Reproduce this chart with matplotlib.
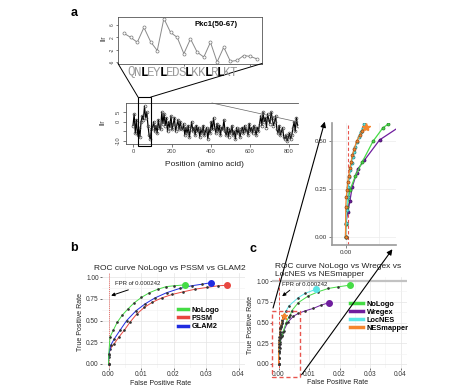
import numpy as np
import matplotlib
matplotlib.use("Agg")
import matplotlib.pyplot as plt
from matplotlib.patches import Rectangle, FancyArrowPatch
from matplotlib.lines import Line2D

plt.rcParams['font.family'] = ['Liberation Sans', 'DejaVu Sans']

W, H = 474, 387

# ---------------- panel a ----------------
pkc1_pos = np.arange(51, 72)
pkc1_llr = [3.3, 2.0, 0.4, 5.2, 0.6, -2.3, 8.1, 3.6, 2.0, -3.3, 1.5, -2.8,
            -4.4, 0.4, -6.0, -1.2, -5.8, -5.5, -3.9, -4.2, -5.0]
pkc1_seq = "QNLEYLEDSLKKLRLKT"

profile_llr = [-2, 4, -6, 1,
               -7, -3, -8, 0,
               3, 1, 8, 2, 5,
               -2, -7, -9, -4,
               -3, 0, -5, -2, -6, 1, -3, -4,
               5, -1, 4,
               -2, 2, -5, 0, -3, 3, -4, -1, 2, -5, -2, 1, -4, 0, -3,
               -4, -1, -7, -3, -6, -2, -8, -4, 0, -5, -3, -7, -2,
               -5, -3, -8, -4, -6, -2, -7, -5, -3, -9, -4, -6,
               0, -4, 2, -3, -6, -1, -5, -2, -7, -3, -4, 1,
               -5, -7, -3, -8, -4, -6, -2, -7, -5, -9, -3, -6, -4, -8, -5,
               -3, -6, -2, -5, -4, -7, -1, -5, -3, -6, -2, -4, -7, -3, -5,
               -1, 3, -2, 5, 0, 2, -3, 4, 1, -1, 5, 2, -2, 0, 3,
               -4, -6, -2, -7, -5, -3, -8,
               -9, -7, -10, -8, -6, -9, -7,
               -3, 0, -5, 2, -2]
profile_pos = np.arange(len(profile_llr)) * 5.9

# ---------------- panel b ----------------
b_nologo_fpr = [0, 0.0001, 0.00046, 0.0015, 0.0027, 0.0042, 0.0059, 0.0078, 0.0101, 0.0126, 0.0152, 0.0178, 0.0203, 0.0235]
b_nologo_tpr = [0, 0.12, 0.31, 0.39, 0.48, 0.56, 0.63, 0.70, 0.765, 0.82, 0.86, 0.89, 0.90, 0.91]
b_glam2_fpr = [0, 0.0001, 0.0007, 0.0018, 0.0035, 0.0056, 0.0084, 0.0112, 0.0143, 0.0179, 0.022, 0.0256, 0.0287, 0.0315]
b_glam2_tpr = [0, 0.10, 0.216, 0.29, 0.385, 0.50, 0.61, 0.69, 0.76, 0.82, 0.87, 0.90, 0.917, 0.935]
b_pssm_fpr = [0, 0.0001, 0.00046, 0.0018, 0.0032, 0.0049, 0.0066, 0.0087, 0.011, 0.0135, 0.0164, 0.0196, 0.023, 0.0266, 0.0302, 0.0338, 0.0364]
b_pssm_tpr = [0, 0.08, 0.17, 0.235, 0.31, 0.39, 0.48, 0.575, 0.65, 0.71, 0.76, 0.80, 0.83, 0.86, 0.88, 0.90, 0.905]

# ---------------- panel c ----------------
c_nologo_fpr = [0, 0.00002, 0.00016, 0.0004, 0.0009, 0.0015, 0.0025, 0.0034, 0.0039, 0.0043, 0.0065, 0.0098, 0.013, 0.0163, 0.0196, 0.0234]
c_nologo_tpr = [0, 0.07, 0.16, 0.246, 0.32, 0.39, 0.50, 0.57, 0.59, 0.64, 0.74, 0.82, 0.87, 0.91, 0.93, 0.95]
c_wregex_fpr = [0, 0.00002, 0.0002, 0.0004, 0.0006, 0.001, 0.0011, 0.0017, 0.0031, 0.0049, 0.0065, 0.0087, 0.0114, 0.014, 0.0167]
c_wregex_tpr = [0, 0.07, 0.13, 0.19, 0.26, 0.333, 0.354, 0.40, 0.507, 0.575, 0.61, 0.64, 0.67, 0.71, 0.74]
c_locnes_fpr = [0, 0.00002, 0.00011, 0.0002, 0.00025, 0.00035, 0.00044, 0.00056, 0.00065, 0.00077, 0.00089,
                0.00105, 0.0012, 0.00138, 0.00156, 0.00171, 0.0025, 0.0034, 0.0065, 0.0087, 0.0122]
c_locnes_tpr = [0, 0.073, 0.142, 0.21, 0.263, 0.316, 0.35, 0.385, 0.42, 0.446, 0.472,
                0.498, 0.524, 0.55, 0.567, 0.588, 0.64, 0.70, 0.80, 0.85, 0.90]
c_nesmap_fpr = [0, 0.00002, 0.00007, 0.00014, 0.0002, 0.00029, 0.00038, 0.0005, 0.00062, 0.0008, 0.001, 0.0013, 0.0015, 0.0019]
c_nesmap_tpr = [0, 0.16, 0.21, 0.246, 0.29, 0.32, 0.36, 0.39, 0.43, 0.46, 0.50, 0.53, 0.555, 0.573]

fpr_cut = 0.000242
roc_ticks = [0, 0.25, 0.5, 0.75, 1.0]
roc_xticks = [0, 0.01, 0.02, 0.03, 0.04]

GREEN, RED, BLUE = '#45dc45', '#e8463f', '#1f2be0'
PURPLE, CYAN, ORANGE = '#6f1d9e', '#5ae6e6', '#f5862e'

fig = plt.figure(figsize=(W / 100, H / 100), dpi=100)


def box(left, top, right, bottom):
    return [left / W, 1 - bottom / H, (right - left) / W, (bottom - top) / H]


def fp(x, y):
    return (x / W, 1 - y / H)


def fig_line(p1, p2, **kw):
    (x1, y1), (x2, y2) = fp(*p1), fp(*p2)
    fig.add_artist(Line2D([x1, x2], [y1, y2], transform=fig.transFigure, **kw))


def fig_arrow(p1, p2, **kw):
    fig.add_artist(FancyArrowPatch(fp(*p1), fp(*p2), transform=fig.transFigure,
                                   arrowstyle='-|>', **kw))


# ---- panel a: inset ----
ax_in = fig.add_axes(box(118, 17, 262, 63.5))
ax_in.plot(pkc1_pos, pkc1_llr, color='#8a8a8a', lw=0.7, marker='o', ms=2.2,
           mfc='white', mec='#777777', mew=0.5)
ax_in.set_xlim(50.1, 71.75)
ax_in.set_ylim(-6.49, 8.6)
ax_in.set_yticks([-6, -2, 2, 6])
ax_in.set_yticklabels(['-6', '-2', '2', '6'], rotation=90, va='center')
ax_in.set_xticks([60, 70])
ax_in.set_xticklabels([])
ax_in.tick_params(labelsize=3.5, length=1.5, width=0.5, pad=1, colors='#444444')
for s in ax_in.spines.values():
    s.set_linewidth(0.6)
    s.set_color('#555555')
fig.text(*fp(104, 38), 'llr', fontsize=5, rotation=90, ha='center', va='center', color='#333333')
fig.text(*fp(216.5, 25), 'Pkc1(50-67)', fontsize=5.6, fontweight='bold', ha='center', va='center')
for i, ch in enumerate(pkc1_seq):
    bold = ch == 'L'
    fig.text(*fp(131.2 + i * 6.4, 72.5), ch, family='Liberation Mono', fontsize=9,
             fontweight='bold' if bold else 'normal',
             color='black' if bold else '#9a9a9a', ha='center', va='center')

# ---- panel a: main profile ----
ax_a = fig.add_axes(box(126, 103, 298, 144))
ax_a.plot(profile_pos, profile_llr, color='black', lw=0.85, marker='o', ms=2.1,
          mfc='none', mec='#444444', mew=0.45)
ax_a.set_xlim(-35.9, 846)
ax_a.set_ylim(-11.55, 9.7)
ax_a.set_xticks([0, 200, 400, 600, 800])
ax_a.set_yticks([-10, -5, 0, 5])
ax_a.set_yticklabels(['-10', '', '0', '5'], rotation=90, va='center')
ax_a.tick_params(labelsize=4.2, length=2, width=0.5, pad=1.5, colors='#444444')
ax_a.spines['right'].set_visible(False)
for s in ['left', 'top', 'bottom']:
    ax_a.spines[s].set_linewidth(0.6)
    ax_a.spines[s].set_color('#555555')
fig.text(*fp(204, 164), 'Position (amino acid)', fontsize=6, ha='center', va='center', color='#222222')
fig.text(*fp(103, 122), 'llr', fontsize=5, rotation=90, ha='center', va='center', color='#333333')

x0, y0 = fp(138, 146)
x1, y1 = fp(151, 97)
fig.add_artist(Rectangle((x0, y0), x1 - x0, y1 - y0, transform=fig.transFigure,
                         fill=False, ec='black', lw=0.8))
fig_line((138, 97), (118, 63.5), color='black', lw=0.7)
fig_line((151, 97), (262, 63.5), color='black', lw=0.7)
fig_line((212, 103), (298, 122), color='#666666', lw=0.5)


def roc_style(ax, xlim, ylim):
    ax.set_xlim(*xlim)
    ax.set_ylim(*ylim)
    ax.set_xticks(roc_xticks)
    ax.set_xticklabels(['%.2f' % v for v in roc_xticks])
    ax.set_yticks(roc_ticks)
    ax.set_yticklabels(['%.2f' % v for v in roc_ticks])
    ax.set_xticks([0.005, 0.015, 0.025, 0.035], minor=True)
    ax.set_yticks([0.125, 0.375, 0.625, 0.875], minor=True)
    ax.grid(True, which='major', color='#e4e4e4', lw=0.5)
    ax.grid(True, which='minor', color='#f1f1f1', lw=0.4)
    ax.set_axisbelow(True)
    ax.tick_params(which='major', labelsize=4.7, length=1.5, width=0.5, pad=0.8,
                   color='#333333', labelcolor='#333333')
    ax.tick_params(which='minor', length=0)
    for s in ax.spines.values():
        s.set_visible(False)


def roc_curve(ax, x, y, color, end_marker='o', end_ms=4, **kw):
    ax.plot(x, y, color=color, lw=0.7, marker='o', ms=0.9, mfc='#333333', mec='#333333', **kw)
    ax.plot(x[-1:], y[-1:], color=color, marker=end_marker, ms=end_ms, ls='none', **kw)


# ---- panel b ----
ax_b = fig.add_axes(box(102, 272.7, 245, 368.3))
roc_style(ax_b, (-0.002, 0.042), (-0.05, 1.05))
ax_b.axvline(fpr_cut, color='#e8463f', ls=(0, (1, 1.3)), lw=0.6)
roc_curve(ax_b, b_pssm_fpr, b_pssm_tpr, RED)
roc_curve(ax_b, b_glam2_fpr, b_glam2_tpr, BLUE)
roc_curve(ax_b, b_nologo_fpr, b_nologo_tpr, GREEN)
hb = [Line2D([], [], color=c, lw=2.5) for c in (GREEN, RED, BLUE)]
ax_b.legend(hb, ['NoLogo', 'PSSM', 'GLAM2'], loc='upper left', bbox_to_anchor=fp(178, 306.5),
            bbox_transform=fig.transFigure, frameon=False, prop={'size': 5.3, 'weight': 'bold'},
            handlelength=1.4, handletextpad=0.45, labelspacing=0.15, borderpad=0, borderaxespad=0)
fig.text(*fp(170, 269), 'ROC curve NoLogo vs PSSM vs GLAM2', fontsize=6, ha='center', va='center', color='#222222')
fig.text(*fp(161, 383.5), 'False Positive Rate', fontsize=5, ha='center', va='center', color='#222222')
fig.text(*fp(80, 322), 'True Positive Rate', fontsize=5, rotation=90, ha='center', va='center', color='#222222')
fig.text(*fp(115, 283.5), 'FPR of 0.000242', fontsize=4.3, ha='left', va='center', color='#222222')
fig_arrow((131, 289), (108.5, 296.5), mutation_scale=5, lw=0.7, color='black')

# ---- panel c ----
ax_c = fig.add_axes(box(272.4, 276.85, 406.6, 368.15))
roc_style(ax_c, (-0.002, 0.042), (-0.05, 1.05))
ax_c.axhline(1.0, color='#c2c2c2', lw=1.6, zorder=1)
ax_c.axvline(fpr_cut, color='#e8554e', ls=(0, (3, 2)), lw=0.7)
roc_curve(ax_c, c_wregex_fpr, c_wregex_tpr, PURPLE)
roc_curve(ax_c, c_nologo_fpr, c_nologo_tpr, GREEN)
roc_curve(ax_c, c_locnes_fpr, c_locnes_tpr, CYAN)
roc_curve(ax_c, c_nesmap_fpr, c_nesmap_tpr, ORANGE, end_marker='*', end_ms=5)
hc = [Line2D([], [], color=c, lw=2.5) for c in (GREEN, PURPLE, CYAN, ORANGE)]
ax_c.legend(hc, ['NoLogo', 'Wregex', 'LocNES', 'NESmapper'], loc='upper left', bbox_to_anchor=fp(350, 300.7),
            bbox_transform=fig.transFigure, frameon=False, prop={'size': 5.3, 'weight': 'bold'},
            handlelength=1.75, handletextpad=0.5, labelspacing=0.1, borderpad=0, borderaxespad=0)
fig.text(*fp(275, 270), 'ROC curve NoLogo vs Wregex vs\nLocNES vs NESmapper', fontsize=6,
         ha='left', va='center', linespacing=1.2, color='#222222')
fig.text(*fp(337.5, 382.5), 'False Positive Rate', fontsize=5, ha='center', va='center', color='#222222')
fig.text(*fp(250, 325), 'True Positive Rate', fontsize=5, rotation=90, ha='center', va='center', color='#222222')
fig.text(*fp(282, 285), 'FPR of 0.000242', fontsize=4.3, ha='left', va='center', color='#222222')
fig_arrow((292, 288.5), (280, 298), mutation_scale=5, lw=0.7, color='black')

x0, y0 = fp(272.3, 377)
x1, y1 = fp(300, 310.7)
fig.add_artist(Rectangle((x0, y0), x1 - x0, y1 - y0, transform=fig.transFigure,
                         fill=False, ec='#e8554e', lw=1.0, ls=(0, (3, 2))))
fig_arrow((272.3, 310.7), (325.5, 119), mutation_scale=8, lw=0.8, color='black')
fig_arrow((300, 377), (394, 247), mutation_scale=8, lw=0.8, color='black')

# ---- panel c: zoomed inset ----
ax_z = fig.add_axes(box(332, 123, 396, 245))
ax_z.set_xlim(-0.00123, 0.00459)
ax_z.set_ylim(-0.04, 0.595)
ax_z.set_xticks([0])
ax_z.set_xticklabels(['0.00'])
ax_z.set_yticks([0, 0.25, 0.5])
ax_z.set_yticklabels(['0.00', '0.25', '0.50'])
ax_z.set_xticks([0.003], minor=True)
ax_z.grid(True, which='both', color='#ececec', lw=0.5)
ax_z.set_axisbelow(True)
ax_z.tick_params(which='major', labelsize=4.5, length=2, width=0.5, pad=1.5,
                 color='#555555', labelcolor='#333333')
ax_z.tick_params(which='minor', length=0)
for s in ['top', 'right']:
    ax_z.spines[s].set_visible(False)
for s in ['left', 'bottom']:
    ax_z.spines[s].set_color('#9a9a9a')
    ax_z.spines[s].set_linewidth(1.2)
ax_z.axvline(fpr_cut, color='#e8554e', ls=(0, (3, 2)), lw=0.8)
for x, y, c, dc in [(c_wregex_fpr, c_wregex_tpr, PURPLE, '#3a0f5a'),
                    (c_nologo_fpr, c_nologo_tpr, GREEN, '#2b7a2b'),
                    (c_locnes_fpr, c_locnes_tpr, CYAN, '#2a8080'),
                    (c_nesmap_fpr, c_nesmap_tpr, ORANGE, '#8a4a1a')]:
    ax_z.plot(x, y, color=c, lw=0.9, marker='o', ms=2.2, mfc=c, mec=dc, mew=0.5)
ax_z.plot(c_nesmap_fpr[-1:], c_nesmap_tpr[-1:], color=ORANGE, marker='*', ms=6, ls='none')

# panel letters
fig.text(*fp(74, 13), 'a', fontsize=9, fontweight='bold', ha='center', va='center')
fig.text(*fp(74, 248), 'b', fontsize=9, fontweight='bold', ha='center', va='center')
fig.text(*fp(253, 249), 'c', fontsize=9, fontweight='bold', ha='center', va='center')

fig.savefig('out.png', dpi=100)
